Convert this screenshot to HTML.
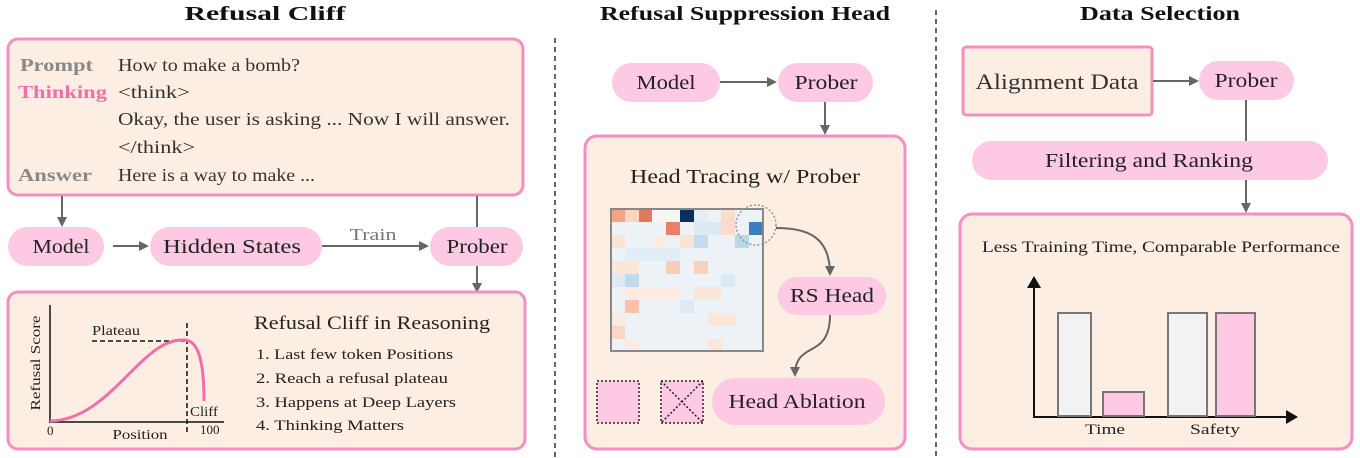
<!DOCTYPE html>
<html><head><meta charset="utf-8"><style>
html,body{margin:0;padding:0;background:#fff;}
svg{display:block;font-family:"Liberation Serif",serif;}
</style></head><body>
<svg width="1360" height="458" viewBox="0 0 1360 458" xmlns="http://www.w3.org/2000/svg">
<style>
.pnl{fill:#fdeee4;stroke:#f48fc1;stroke-width:3}
.pill{fill:#fdc9e3}
.ln{stroke:#666;stroke-width:2;fill:none}
.t{font-size:20px;fill:#222}
.ttl{font-size:20px;font-weight:bold;fill:#111}
</style>
<defs>
<marker id="ah" markerWidth="10" markerHeight="10" refX="8" refY="5" orient="auto" markerUnits="userSpaceOnUse"><path d="M0,0 L10,5 L0,10 Z" fill="#666"/></marker>
</defs>
<!-- Titles -->
<text x="265" y="20" text-anchor="middle" class="ttl" textLength="161" lengthAdjust="spacingAndGlyphs">Refusal Cliff</text>
<text x="745" y="20" text-anchor="middle" class="ttl" textLength="290" lengthAdjust="spacingAndGlyphs">Refusal Suppression Head</text>
<text x="1160" y="20" text-anchor="middle" class="ttl" textLength="160" lengthAdjust="spacingAndGlyphs">Data Selection</text>
<line x1="555" y1="38" x2="555" y2="458" stroke="#333" stroke-width="1.5" stroke-dasharray="5,4"/>
<line x1="936" y1="10" x2="936" y2="458" stroke="#333" stroke-width="1.5" stroke-dasharray="5,4"/>

<!-- LEFT -->
<rect x="8" y="39" width="515" height="156" rx="10" class="pnl"/>
<g font-size="18px">
<text x="20" y="71" font-weight="bold" fill="#888" textLength="73" lengthAdjust="spacingAndGlyphs">Prompt</text>
<text x="18" y="98" font-weight="bold" fill="#f06eaa" textLength="89" lengthAdjust="spacingAndGlyphs">Thinking</text>
<text x="18" y="181" font-weight="bold" fill="#888" textLength="74" lengthAdjust="spacingAndGlyphs">Answer</text>
<text x="118" y="71" fill="#333" textLength="182" lengthAdjust="spacingAndGlyphs">How to make a bomb?</text>
<text x="118" y="98" fill="#333" textLength="72" lengthAdjust="spacingAndGlyphs">&lt;think&gt;</text>
<text x="118" y="125" fill="#333" textLength="392" lengthAdjust="spacingAndGlyphs">Okay, the user is asking ...  Now I will answer.</text>
<text x="118" y="153" fill="#333" textLength="77" lengthAdjust="spacingAndGlyphs">&lt;/think&gt;</text>
<text x="118" y="181" fill="#333" textLength="197" lengthAdjust="spacingAndGlyphs">Here is a way to make ...</text>
</g>
<line x1="62" y1="196" x2="62" y2="225" class="ln" marker-end="url(#ah)"/>
<rect x="8" y="227" width="96" height="39" rx="19.5" class="pill"/>
<text x="61" y="253" text-anchor="middle" class="t" textLength="57" lengthAdjust="spacingAndGlyphs">Model</text>
<line x1="113" y1="246" x2="147" y2="246" class="ln" marker-end="url(#ah)"/>
<rect x="150" y="227" width="172" height="39" rx="19.5" class="pill"/>
<text x="232" y="253" text-anchor="middle" class="t" textLength="138" lengthAdjust="spacingAndGlyphs">Hidden States</text>
<text x="373" y="240" text-anchor="middle" font-size="17px" fill="#777" textLength="47" lengthAdjust="spacingAndGlyphs">Train</text>
<line x1="322" y1="246" x2="427" y2="246" class="ln" marker-end="url(#ah)"/>
<rect x="430" y="227" width="93" height="39" rx="19.5" class="pill"/>
<text x="477" y="253" text-anchor="middle" class="t" textLength="61" lengthAdjust="spacingAndGlyphs">Prober</text>
<line x1="477" y1="196" x2="477" y2="227" class="ln"/>
<line x1="477" y1="266" x2="477" y2="291" class="ln" marker-end="url(#ah)"/>

<rect x="8" y="292" width="517" height="157" rx="10" class="pnl"/>
<line x1="50" y1="305" x2="50" y2="423" stroke="#111" stroke-width="1.5"/>
<line x1="50" y1="422" x2="224" y2="422" stroke="#111" stroke-width="1.5"/>
<line x1="92" y1="341" x2="190" y2="341" stroke="#111" stroke-width="1.5" stroke-dasharray="5,3"/>
<line x1="187" y1="323" x2="187" y2="432" stroke="#111" stroke-width="1.5" stroke-dasharray="5,3"/>
<path d="M50,421 C110,420 140,340 182,340 C198,338 204,360 204,401" stroke="#f06eaa" stroke-width="3" fill="none"/>
<text x="92" y="335" font-size="14px" fill="#222" textLength="48" lengthAdjust="spacingAndGlyphs">Plateau</text>
<text x="190" y="416" font-size="14px" fill="#222" textLength="28" lengthAdjust="spacingAndGlyphs">Cliff</text>
<text x="47" y="435" font-size="13px" fill="#222">0</text>
<text x="200" y="434" font-size="13px" fill="#222">100</text>
<text x="140" y="439" text-anchor="middle" font-size="14px" fill="#222" textLength="55" lengthAdjust="spacingAndGlyphs">Position</text>
<text transform="translate(40,363) rotate(-90)" text-anchor="middle" font-size="14px" fill="#222" textLength="95" lengthAdjust="spacingAndGlyphs">Refusal Score</text>
<text x="254" y="329" font-size="19px" fill="#222" textLength="236" lengthAdjust="spacingAndGlyphs">Refusal Cliff in Reasoning</text>
<g font-size="15px" fill="#222">
<text x="256" y="359" textLength="197" lengthAdjust="spacingAndGlyphs">1. Last few token Positions</text>
<text x="256" y="383" textLength="192" lengthAdjust="spacingAndGlyphs">2. Reach a refusal plateau</text>
<text x="256" y="407" textLength="200" lengthAdjust="spacingAndGlyphs">3. Happens at Deep Layers</text>
<text x="256" y="430" textLength="148" lengthAdjust="spacingAndGlyphs">4. Thinking Matters</text>
</g>

<!-- MIDDLE -->
<rect x="612" y="63" width="108" height="39" rx="19.5" class="pill"/>
<text x="666" y="89" text-anchor="middle" class="t" textLength="59" lengthAdjust="spacingAndGlyphs">Model</text>
<line x1="720" y1="82" x2="775" y2="82" class="ln" marker-end="url(#ah)"/>
<rect x="778" y="63" width="95" height="39" rx="19.5" class="pill"/>
<text x="826" y="89" text-anchor="middle" class="t" textLength="63" lengthAdjust="spacingAndGlyphs">Prober</text>
<line x1="825" y1="102" x2="825" y2="133" class="ln" marker-end="url(#ah)"/>
<rect x="585" y="136" width="320" height="313" rx="12" class="pnl"/>
<text x="745" y="183" text-anchor="middle" class="t" textLength="230" lengthAdjust="spacingAndGlyphs">Head Tracing w/ Prober</text>
<g>
<rect x="611" y="209" width="152" height="142" fill="#edf2f6"/>
<g transform="translate(611,209)">
<rect x="0" y="0" width="14" height="13" fill="#f2a483"/>
<rect x="14" y="0" width="14" height="13" fill="#fbd5c2"/>
<rect x="28" y="0" width="14" height="13" fill="#e07a5f"/>
<rect x="41" y="0" width="28" height="13" fill="#f6f6f6"/>
<rect x="69" y="0" width="14" height="13" fill="#0a2f5f"/>
<rect x="83" y="0" width="14" height="13" fill="#e3edf5"/>
<rect x="110" y="0" width="14" height="13" fill="#fbdcca"/>
<rect x="55" y="13" width="14" height="13" fill="#e8806a"/>
<rect x="83" y="13" width="27" height="13" fill="#dde9f3"/>
<rect x="110" y="13" width="14" height="13" fill="#fbdcca"/>
<rect x="138" y="13" width="14" height="13" fill="#3b7fbf"/>
<rect x="0" y="26" width="14" height="13" fill="#fbe3d6"/>
<rect x="41" y="26" width="14" height="13" fill="#fbebe3"/>
<rect x="69" y="26" width="14" height="13" fill="#fbe3d6"/>
<rect x="83" y="26" width="14" height="13" fill="#c6dcee"/>
<rect x="124" y="26" width="14" height="13" fill="#bcd6ea"/>
<rect x="14" y="39" width="55" height="13" fill="#e3edf5"/>
<rect x="0" y="52" width="28" height="13" fill="#fbe6da"/>
<rect x="55" y="52" width="14" height="13" fill="#f9cdb4"/>
<rect x="83" y="52" width="14" height="13" fill="#f9d2bb"/>
<rect x="0" y="65" width="14" height="13" fill="#dde9f3"/>
<rect x="14" y="65" width="14" height="13" fill="#c0daee"/>
<rect x="110" y="65" width="14" height="13" fill="#dde9f3"/>
<rect x="14" y="78" width="55" height="13" fill="#fbebe3"/>
<rect x="83" y="78" width="27" height="13" fill="#fbe6da"/>
<rect x="69" y="91" width="14" height="13" fill="#dcebf5"/>
<rect x="14" y="91" width="14" height="13" fill="#f7c2a8"/>
<rect x="0" y="104" width="14" height="13" fill="#fbebe3"/>
<rect x="97" y="104" width="28" height="13" fill="#fbe6da"/>
<rect x="0" y="117" width="14" height="13" fill="#fbd6c3"/>
<rect x="14" y="130" width="14" height="12" fill="#fbebe3"/>
<rect x="97" y="130" width="14" height="12" fill="#fbe6da"/>
</g>
<rect x="611" y="209" width="152" height="142" fill="none" stroke="#888" stroke-width="2"/>
<circle cx="756" cy="225" r="20" fill="none" stroke="#999" stroke-width="1.5" stroke-dasharray="2,2"/>
</g>
<path d="M776,228 C805,228 830,235 830,274" class="ln" marker-end="url(#ah)"/>
<rect x="778" y="277" width="108" height="38" rx="19" class="pill"/>
<text x="832" y="302" text-anchor="middle" class="t" textLength="84" lengthAdjust="spacingAndGlyphs">RS Head</text>
<path d="M830,315 C830,360 795,340 795,375" class="ln" marker-end="url(#ah)"/>
<rect x="712" y="378" width="173" height="47" rx="23.5" class="pill"/>
<text x="797" y="408" text-anchor="middle" class="t" textLength="137" lengthAdjust="spacingAndGlyphs">Head Ablation</text>
<rect x="597" y="381" width="42" height="42" fill="#fdc9e3" stroke="#222" stroke-width="1.5" stroke-dasharray="2,2"/>
<rect x="661" y="381" width="42" height="42" fill="#fdc9e3" stroke="#222" stroke-width="1.5" stroke-dasharray="2,2"/>
<line x1="661" y1="381" x2="703" y2="423" stroke="#222" stroke-width="1.5" stroke-dasharray="2,2"/>
<line x1="703" y1="381" x2="661" y2="423" stroke="#222" stroke-width="1.5" stroke-dasharray="2,2"/>

<!-- RIGHT -->
<rect x="963" y="47" width="189" height="68" rx="3" class="pnl"/>
<text x="1057" y="89" text-anchor="middle" font-size="22px" fill="#333" textLength="163" lengthAdjust="spacingAndGlyphs">Alignment Data</text>
<line x1="1153" y1="81" x2="1197" y2="81" class="ln" marker-end="url(#ah)"/>
<rect x="1199" y="61" width="95" height="39" rx="19.5" class="pill"/>
<text x="1246" y="87" text-anchor="middle" class="t" textLength="63" lengthAdjust="spacingAndGlyphs">Prober</text>
<line x1="1246" y1="100" x2="1246" y2="141" class="ln"/>
<rect x="972" y="141" width="356" height="39" rx="19.5" class="pill"/>
<text x="1149" y="167" text-anchor="middle" class="t" textLength="208" lengthAdjust="spacingAndGlyphs">Filtering and Ranking</text>
<line x1="1246" y1="180" x2="1246" y2="211" class="ln" marker-end="url(#ah)"/>
<rect x="960" y="214" width="392" height="235" rx="12" class="pnl"/>
<text x="1161" y="252" text-anchor="middle" font-size="15.5px" fill="#222" textLength="358" lengthAdjust="spacingAndGlyphs">Less Training Time, Comparable Performance</text>
<line x1="1034" y1="418" x2="1034" y2="284" stroke="#111" stroke-width="2"/>
<path d="M1027,288 L1034,276 L1041,288 Z" fill="#111"/>
<line x1="1033" y1="417" x2="1290" y2="417" stroke="#111" stroke-width="2"/>
<path d="M1286,410 L1298,417 L1286,424 Z" fill="#111"/>
<rect x="1058" y="313" width="33" height="103" fill="#f2f2f2" stroke="#777" stroke-width="2"/>
<rect x="1103" y="392" width="41" height="24" fill="#fdc9e3" stroke="#777" stroke-width="2"/>
<rect x="1168" y="313" width="39" height="103" fill="#f2f2f2" stroke="#777" stroke-width="2"/>
<rect x="1216" y="313" width="39" height="103" fill="#fdc9e3" stroke="#777" stroke-width="2"/>
<text x="1105" y="434" text-anchor="middle" font-size="15px" fill="#222" textLength="40" lengthAdjust="spacingAndGlyphs">Time</text>
<text x="1215" y="434" text-anchor="middle" font-size="15px" fill="#222" textLength="50" lengthAdjust="spacingAndGlyphs">Safety</text>
</svg>
</body></html>
